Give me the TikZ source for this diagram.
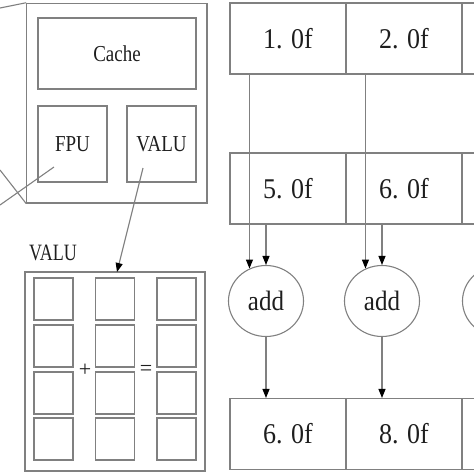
\documentclass[tikz,border=0pt]{standalone}
\usepackage{fontspec}
\setmainfont{Liberation Serif}
\usetikzlibrary{arrows.meta,shapes.geometric}
\newcommand{\vsc}[2][1.2]{\scalebox{1}[#1]{#2}}
\definecolor{ln}{RGB}{128,128,128}
\definecolor{tx}{RGB}{30,30,30}
\tikzset{
  box/.style={draw=ln, line width=1.1pt, rectangle, inner sep=0pt, text=tx},
  cell/.style={box, minimum width=116pt, minimum height=71pt, font=\fontsize{26}{26}\selectfont},
  sq/.style={box, minimum width=39pt, minimum height=42pt},
  addnode/.style={draw=ln, line width=1.1pt, ellipse, minimum width=75pt, minimum height=71pt, inner sep=0pt, text=tx, font=\fontsize{25}{25}\selectfont},
  lbl/.style={text=tx, inner sep=0pt, font=\fontsize{19}{19}\selectfont},
  conn/.style={draw=ln, line width=1.1pt},
  arr/.style={conn, -{Triangle[length=9pt,width=7pt,fill=black,color=black]}},
}
\begin{document}
\begin{tikzpicture}[x=1pt,y=-1pt]
\useasboundingbox (0,0) rectangle (474,474);
\clip (0,0) rectangle (474,474);
% CPU block
\node[box, minimum width=180.3pt, minimum height=199.7pt] (cpu) at (116.85,103.15) {};
\node[box, minimum width=158pt, minimum height=71pt, font=\fontsize{19}{19}\selectfont] (cache) at (117,53.5) {\vsc{Cache}};
\node[box, minimum width=69pt, minimum height=76pt, font=\fontsize{19}{19}\selectfont] (fpu) at (72.5,144) {\vsc{FPU}};
\node[box, minimum width=69pt, minimum height=76pt, font=\fontsize{19}{19}\selectfont] (valu) at (161.5,144) {\vsc{VALU}};
\coordinate (fpuin) at (54,167);
\coordinate (valuin) at (143,168);
\coordinate (e1) at (0,8);
\coordinate (e2) at (0,170);
\coordinate (e3) at (0,205);
\draw[conn] (e1) -- (cpu.north west);
\draw[conn] (e2) -- (cpu.south west);
\draw[conn] (e3) -- (fpuin);
% VALU detail
\node[lbl, font=\fontsize{18}{18}\selectfont] (valulbl) at (53,253) {\vsc[1.3]{VALU}};
\node[box, minimum width=180pt, minimum height=199pt] (big) at (115,371.5) {};
\coordinate (bigtop) at (117,272);
\draw[arr] (valuin) -- (bigtop);
\foreach \c/\x in {1/53.5, 2/115, 3/176.5}{
  \foreach \r/\y in {1/299, 2/346, 3/393, 4/439}{
    \node[sq] (s\c\r) at (\x,\y) {};
  }
}
\node[lbl, font=\fontsize{22}{22}\selectfont] (plus) at (85,370) {+};
\node[lbl, font=\fontsize{22}{22}\selectfont] (eq) at (146,370) {=};
% vectors
\foreach \r/\y in {t/38.5, m/188.5, b/434}{
  \node[cell] (\r1) at (288,\y) {};
  \node[cell] (\r2) at (404,\y) {};
  \node[cell] (\r3) at (520,\y) {};
}
\node[tx, font=\fontsize{26}{26}\selectfont] at (t1) {\vsc[1.1]{1. 0f}};
\node[tx, font=\fontsize{26}{26}\selectfont] at (t2) {\vsc[1.1]{2. 0f}};
\node[tx, font=\fontsize{26}{26}\selectfont] at (m1) {\vsc[1.1]{5. 0f}};
\node[tx, font=\fontsize{26}{26}\selectfont] at (m2) {\vsc[1.1]{6. 0f}};
\node[tx, font=\fontsize{26}{26}\selectfont] at (b1) {\vsc[1.1]{6. 0f}};
\node[tx, font=\fontsize{26}{26}\selectfont] at (b2) {\vsc[1.1]{8. 0f}};
% adders
\node[addnode] (a1) at (266,301) {\vsc[1.12]{add}};
\node[addnode] (a2) at (382,301) {\vsc[1.12]{add}};
\node[addnode] (a3) at (500,301) {};
\draw[arr] (a1.117 |- t1.south) -- (a1.117);
\draw[arr] (m1.south -| a1.north) -- (a1.north);
\draw[arr] (a2.117 |- t2.south) -- (a2.117);
\draw[arr] (m2.south -| a2.north) -- (a2.north);
\draw[arr] (a1.south) -- (a1.south |- b1.north);
\draw[arr] (a2.south) -- (a2.south |- b2.north);
\end{tikzpicture}
\end{document}
